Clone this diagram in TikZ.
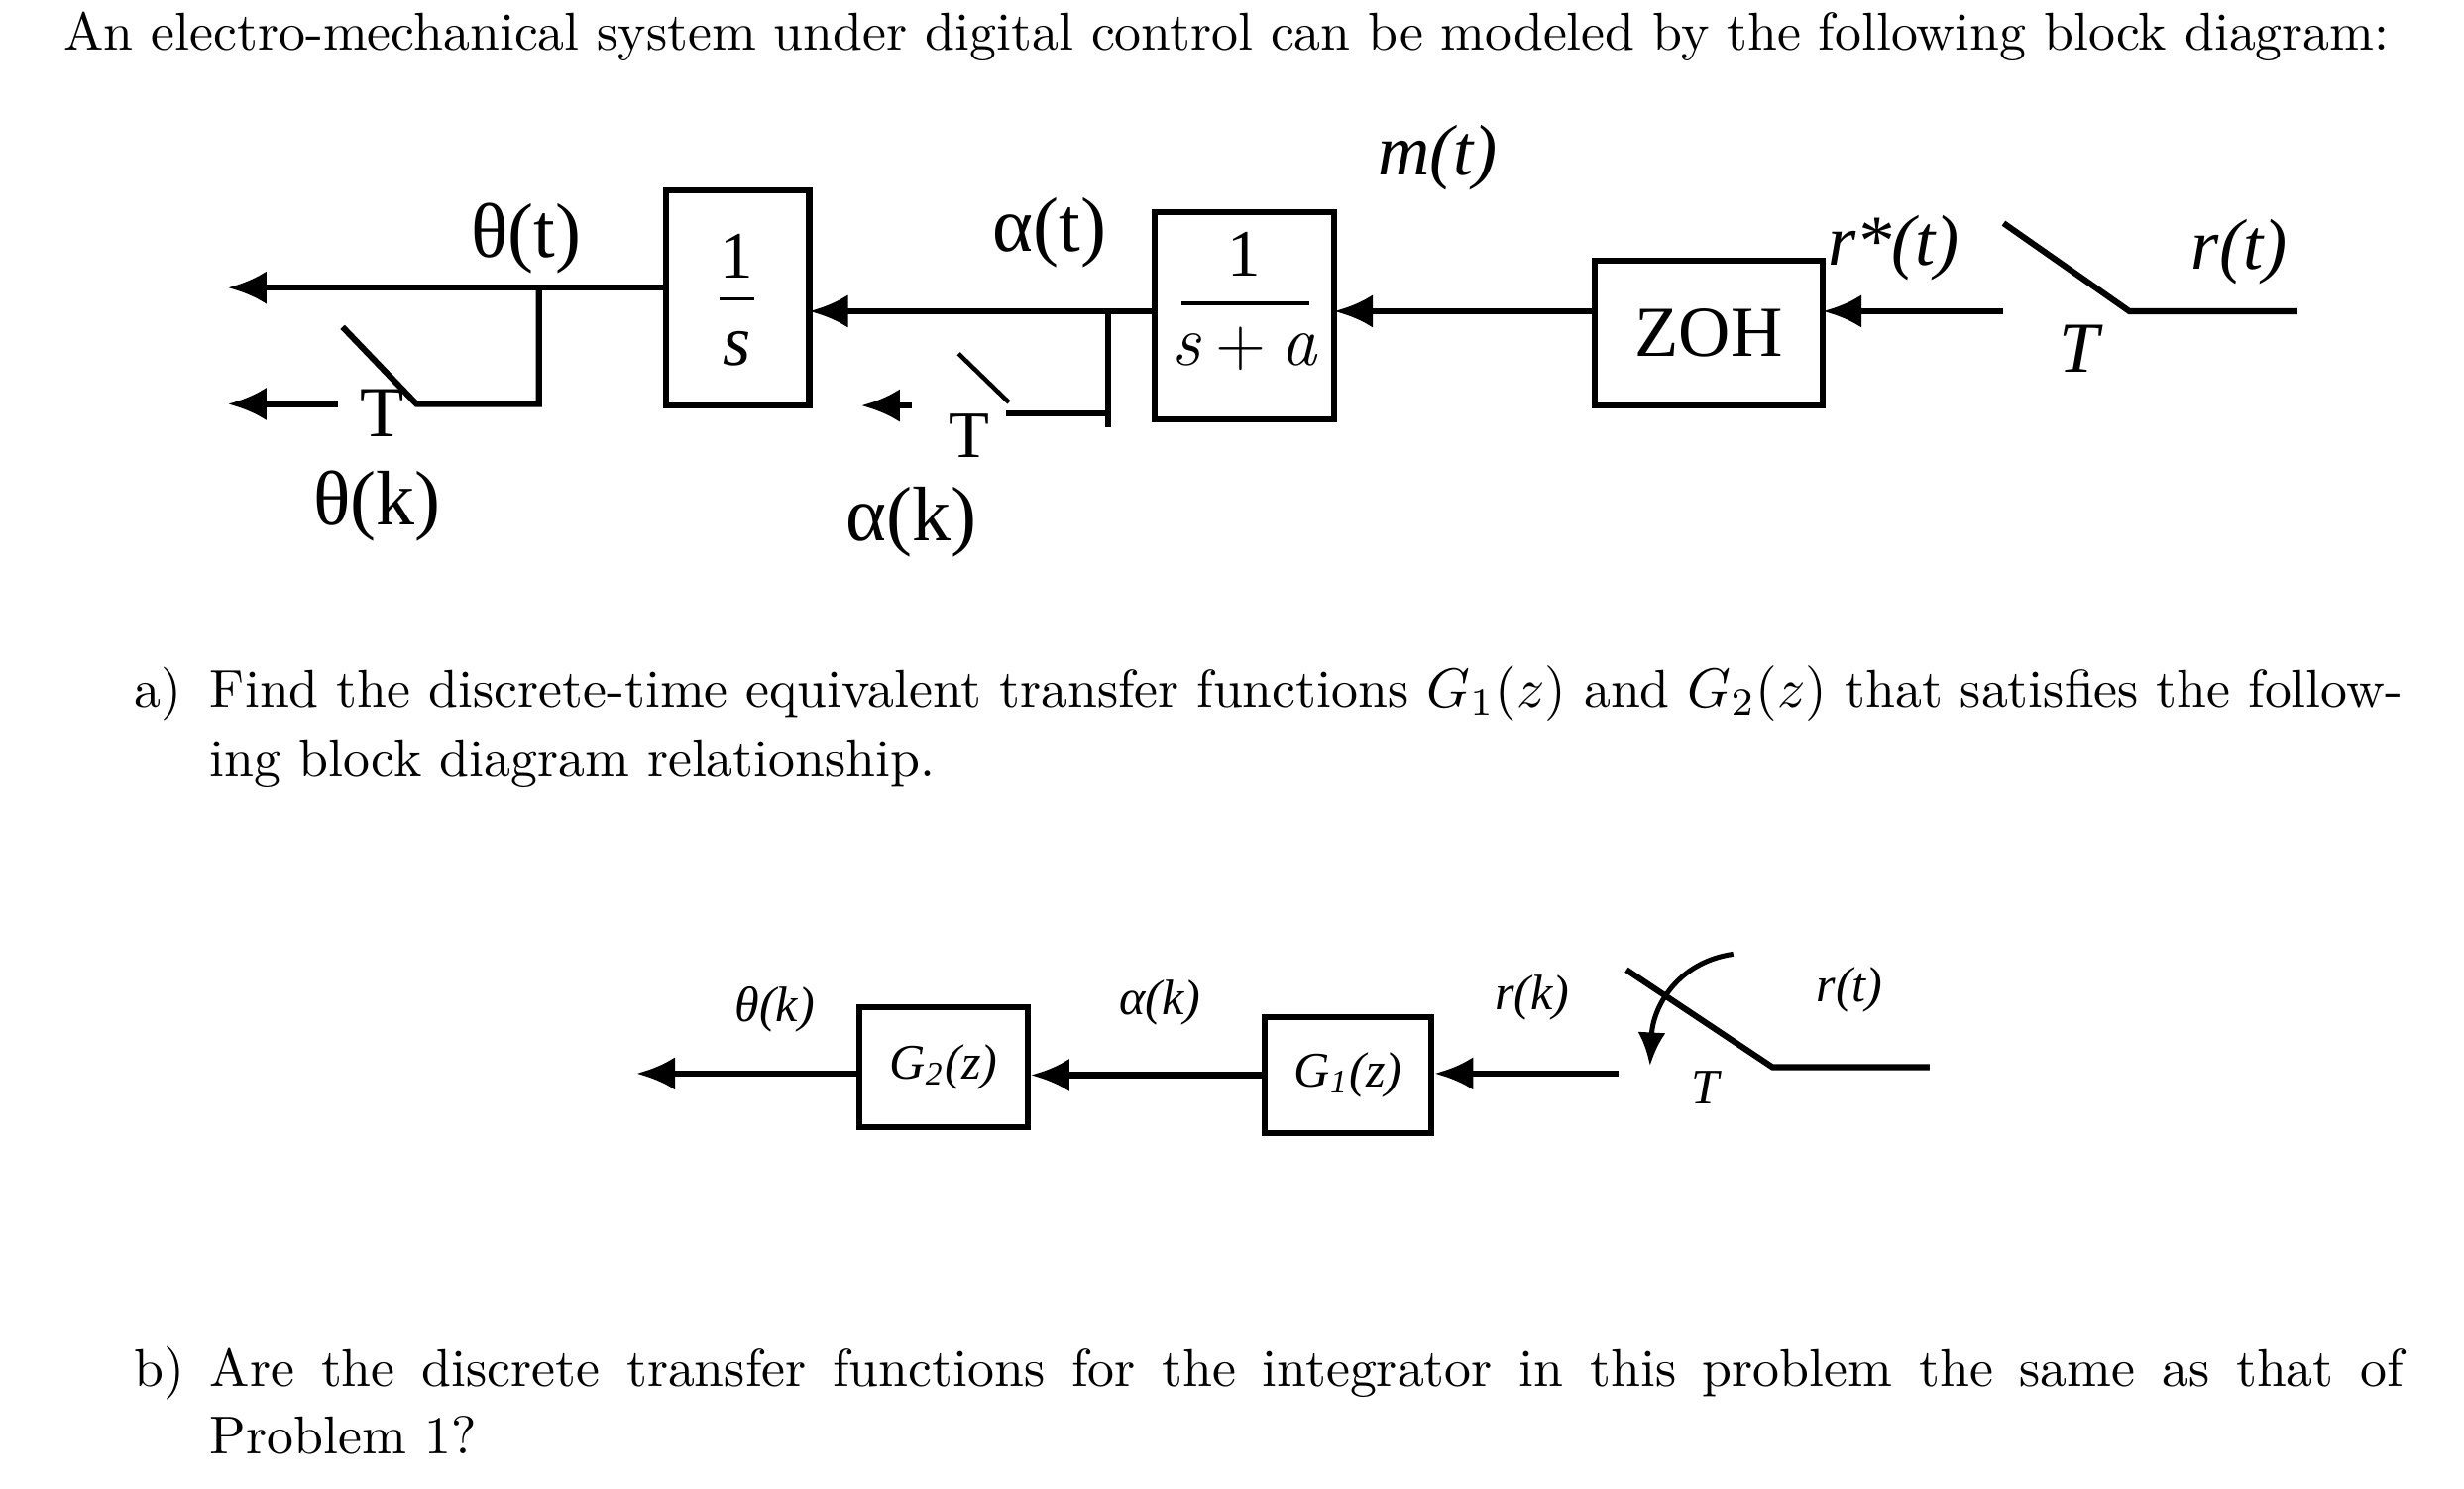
\documentclass[tikz,border=0pt]{standalone}
\usepackage{fontspec}
\newfontfamily\tms{Liberation Serif}
\usetikzlibrary{arrows.meta}
\begin{document}
\begin{tikzpicture}[x=0.01cm,y=-0.01cm,
  ln/.style={line width=1.1pt},
  ar/.style={ln,-{Latex[length=7pt,width=6pt]}},
  arb/.style={line width=0.9pt,-{Latex[length=6pt,width=5pt]}},
  blk/.style={draw,line width=1.1pt,inner sep=0pt},
  lab/.style={font=\tms\fontsize{12}{14}\selectfont,inner sep=0pt},
  slab/.style={font=\tms\itshape\fontsize{9}{11}\selectfont,inner sep=0pt},
  txt/.style={anchor=base west,inner sep=0pt,font=\fontsize{9.65}{12}\selectfont}]
\useasboundingbox[fill=white] (0,0) rectangle (1568,947);
% text
\node[txt] (title) at (40,32) {An electro-mechanical system under digital control can be modeled by the following block diagram:};
\node[txt] (qa) at (85,450) {a)};
\node[txt] (qa1) at (133,450) {Find the discrete-time equivalent transfer functions $G_1(z)$ and $G_2(z)$ that satisfies the follow-};
\node[txt] (qa2) at (133,494) {ing block diagram relationship.};
\node[txt] (qb) at (85,882) {b)};
\node[txt] (qb1) at (133,882) {\makebox[13.95cm][s]{Are the discrete transfer functions for the integrator in this problem the same as that of}};
\node[txt] (qb2) at (133,925) {Problem 1?};
% top boxes
\node[blk,minimum width=91*0.01cm,minimum height=137*0.01cm] (int) at (469.5,189.5) {};
\coordinate (intL) at (424,183); \coordinate (intR) at (515,198);
\node[lab] at (469,163) {1};
\draw[line width=0.6pt] (458,190) -- (480,190);
\node[lab,font=\tms\itshape\fontsize{13}{14}\selectfont] at (469,222) {s};
\node[blk,minimum width=114*0.01cm,minimum height=132*0.01cm] (pl) at (792,201) {};
\coordinate (plL) at (735,198); \coordinate (plR) at (849,198);
\node[lab] at (792,162) {1};
\draw[line width=0.6pt] (752,193) -- (833,193);
\node[lab,font=\tms\fontsize{13}{14}\selectfont] at (792,222) {$\mathit{s}+\mathit{a}$};
\node[blk,minimum width=145*0.01cm,minimum height=92*0.01cm,font=\tms\fontsize{13}{14}\selectfont] (zoh) at (1087.5,212) {ZOH};
\coordinate (zL) at (1015,198); \coordinate (zR) at (1160,198);
% input switch
\coordinate (r0) at (1462,198); \coordinate (r1) at (1355,198); \coordinate (r2) at (1275,142);
\draw[ln] (r0) -- (r1) -- (r2);
\coordinate (rs) at (1275,198);
\draw[ar] (rs) -- (zR);
\node[lab,font=\tms\itshape\fontsize{13}{14}\selectfont] at (1425,160) {r(t)};
\node[lab,font=\tms\itshape\fontsize{13}{14}\selectfont] at (1323,222) {T};
\node[lab,font=\tms\itshape\fontsize{13}{14}\selectfont] at (1205,158) {r*(t)};
\draw[ar] (zL) -- (plR);
\node[lab,font=\tms\itshape\fontsize{13}{14}\selectfont] at (915,100) {m(t)};
\draw[ar] (plL) -- (intR);
\node[lab,font=\tms\fontsize{14}{16}\selectfont] at (668,148) {α(t)};
% alpha sampler
\coordinate (ab) at (705,198); \coordinate (ab2) at (705,272); \coordinate (ac) at (705,263);
\coordinate (ad) at (640,263); \coordinate (ae) at (610,225);
\draw[ln] (ab) -- (ab2); \draw[ln] (ac) -- (ad); \draw[line width=0.8pt] (ae) -- (642,256);
\coordinate (af) at (580,258); \coordinate (ag) at (548,258);
\draw[ar] (af) -- (ag);
\node[lab] at (617,277) {T};
\node[lab,font=\tms\fontsize{14}{16}\selectfont] at (580,332) {α(k)};
% theta
\coordinate (tout) at (145,183);
\draw[ar] (intL) -- (tout);
\node[lab,font=\tms\fontsize{14}{16}\selectfont] at (335,152) {θ(t)};
\coordinate (tb) at (343,183); \coordinate (tc) at (343,257); \coordinate (td) at (265,257); \coordinate (te) at (218,208);
\draw[ln] (tb) -- (tc) -- (td) -- (te);
\coordinate (tf) at (215,257); \coordinate (tg) at (145,257);
\draw[ar] (tf) -- (tg);
\node[lab,font=\tms\fontsize{13}{14}\selectfont] at (243,263) {T};
\node[lab,font=\tms\fontsize{14}{16}\selectfont] at (240,322) {θ(k)};
% bottom diagram
\node[blk,minimum width=107*0.01cm,minimum height=76*0.01cm,font=\tms\itshape\fontsize{9}{11}\selectfont] (g2) at (600.5,679) {G\textsubscript{2}(z)};
\node[blk,minimum width=106*0.01cm,minimum height=74*0.01cm,font=\tms\itshape\fontsize{9}{11}\selectfont] (g1) at (858,684) {G\textsubscript{1}(z)};
\coordinate (bo) at (405,683);
\draw[ar] (g2.west |- bo) -- (bo);
\node[slab] at (493,642) {θ(k)};
\draw[ar] (g1.west) -- (g2.east |- g1.west);
\node[slab] at (738,638) {α(k)};
\coordinate (bs) at (1030,683);
\draw[ar] (bs) -- (g1.east |- bs);
\node[slab] at (975,635) {r(k)};
\coordinate (b0) at (1228,679); \coordinate (b1) at (1128,679); \coordinate (b2) at (1035,617);
\draw[ln] (b0) -- (b1) -- (b2);
\coordinate (c0) at (1103,607); \coordinate (c1) at (1050,678);
\draw[arb] (c0) .. controls (1068,612) and (1052,640) .. (c1);
\node[slab] at (1085,692) {T};
\node[slab] at (1177,630) {r(t)};
\end{tikzpicture}
\end{document}
